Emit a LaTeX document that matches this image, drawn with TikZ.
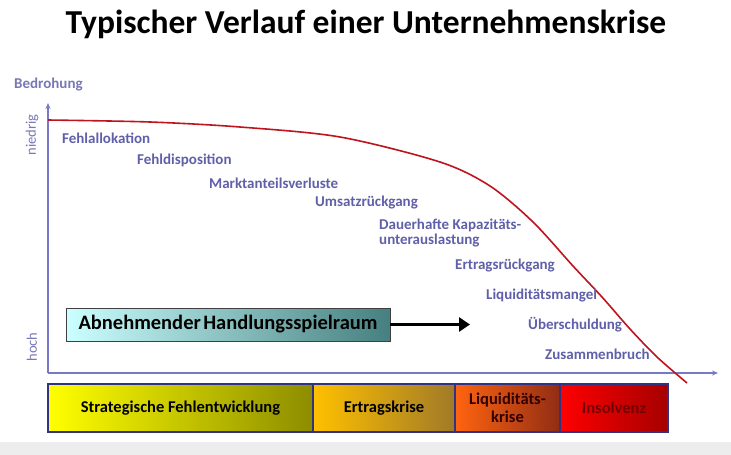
\documentclass[tikz,border=0pt]{standalone}
\usepackage{fontspec}
\setmainfont{Carlito}
\usetikzlibrary{arrows.meta}
\definecolor{achse}{RGB}{120,120,200}
\definecolor{stufe}{RGB}{96,96,170}
\definecolor{kurve}{RGB}{190,20,30}
\definecolor{rahmen}{RGB}{50,50,130}
\definecolor{ertragL}{RGB}{255,192,0}
\definecolor{ertragR}{RGB}{160,122,40}
\definecolor{liquiL}{RGB}{255,100,16}
\definecolor{liquiR}{RGB}{145,45,20}
\tikzset{
	stufe/.style={text=stufe, font=\fontsize{15}{15.5}\selectfont\bfseries, anchor=west, inner sep=0pt, align=left},
	phase/.style={draw=rahmen, line width=1.2pt},
	phasetext/.style={font=\fontsize{16.5}{17.5}\selectfont\bfseries, align=center, inner sep=0pt}
}

\begin{document}
\begin{tikzpicture}[x=1pt, y=-1pt]
			%%%%% START %%%%%
			
			\useasboundingbox[fill=white] (0, 0) rectangle (731, 455);
			\fill[black!7] (0, 442) rectangle (731, 455);
			
			\node[font=\fontsize{33.5}{35}\selectfont\bfseries] (titel) at (366, 24) {Typischer Verlauf einer Unternehmenskrise};
			
			% Achsen
			\coordinate (ursprung) at (48, 373);
			\coordinate (ytip) at (48, 103);
			\coordinate (xtip) at (718, 373);
			\draw[achse, line width=1.3pt, -{Stealth[length=6pt, width=5pt]}] (ursprung) -- (ytip);
			\draw[achse, line width=1.3pt, -{Stealth[length=6pt, width=5pt]}] (ursprung) -- (xtip);
			\node[stufe, text=stufe!85] (bedrohung) at (14, 85) {Bedrohung};
			\node[stufe, text=stufe!85, font=\fontsize{14.5}{15}\selectfont, rotate=90, anchor=center] (niedrig) at (32, 135) {niedrig};
			\node[stufe, text=stufe!85, font=\fontsize{14.5}{15}\selectfont, rotate=90, anchor=center] (hoch) at (32, 347) {hoch};
			
			% Verlauf
			\draw[kurve, line width=1.6pt] plot[smooth] coordinates {(48, 120) (150, 122) (240, 127) (340, 137) (440, 162) (490, 186) (533, 222) (573, 266) (602, 297) (630, 329) (657, 357) (687, 383)};
			
			% Stufen
			\node[stufe] (s1) at (62, 138) {Fehlallokation};
			\node[stufe] (s2) at (137, 160) {Fehldisposition};
			\node[stufe] (s3) at (209, 183) {Marktanteilsverluste};
			\node[stufe] (s4) at (315, 203) {Umsatzrückgang};
			\node[stufe] (s5) at (379, 233) {Dauerhafte Kapazitäts-\\unterauslastung};
			\node[stufe] (s6) at (455, 266) {Ertragsrückgang};
			\node[stufe] (s7) at (486, 296) {Liquiditätsmangel};
			\node[stufe] (s8) at (528, 325) {Überschuldung};
			\node[stufe] (s9) at (545, 354) {Zusammenbruch};
			
			% Handlungsspielraum
			\draw[draw=black!75, line width=0.8pt, left color=cyan!20!white, right color=teal!45!gray] (66, 308) rectangle (390, 341);
			\node[font=\fontsize{20.5}{22}\selectfont\bfseries, inner sep=0pt] (spiel) at (228, 324.5) {Abnehmender\hspace{0.12em}Handlungsspielraum};
			\coordinate (spielrand) at (390, 324.5);
			\coordinate (pfeil) at (470, 324.5);
			\draw[line width=3.5pt, -{Triangle[length=11pt, width=14pt]}] (spielrand) -- (pfeil);
			
			% Phasen
			\draw[phase, left color=yellow, right color=yellow!55!black] (48, 384) rectangle (313, 432);
			\draw[phase, left color=ertragL, right color=ertragR] (313, 384) rectangle (455, 432);
			\draw[phase, left color=liquiL, right color=liquiR] (455, 384) rectangle (560, 432);
			\draw[phase, left color=red, right color=red!65!black] (560, 384) rectangle (668, 432);
			\node[phasetext] (p1) at (180.5, 408) {Strategische Fehlentwicklung};
			\node[phasetext] (p2) at (384, 408) {Ertragskrise};
			\node[phasetext, text=black!80!red] (p3) at (507.5, 408) {Liquiditäts-\\krise};
			\node[phasetext, text=red!45!black] (p4) at (614, 408) {Insolvenz};
			
			%%%%% END %%%%%
\end{tikzpicture}
\end{document}
